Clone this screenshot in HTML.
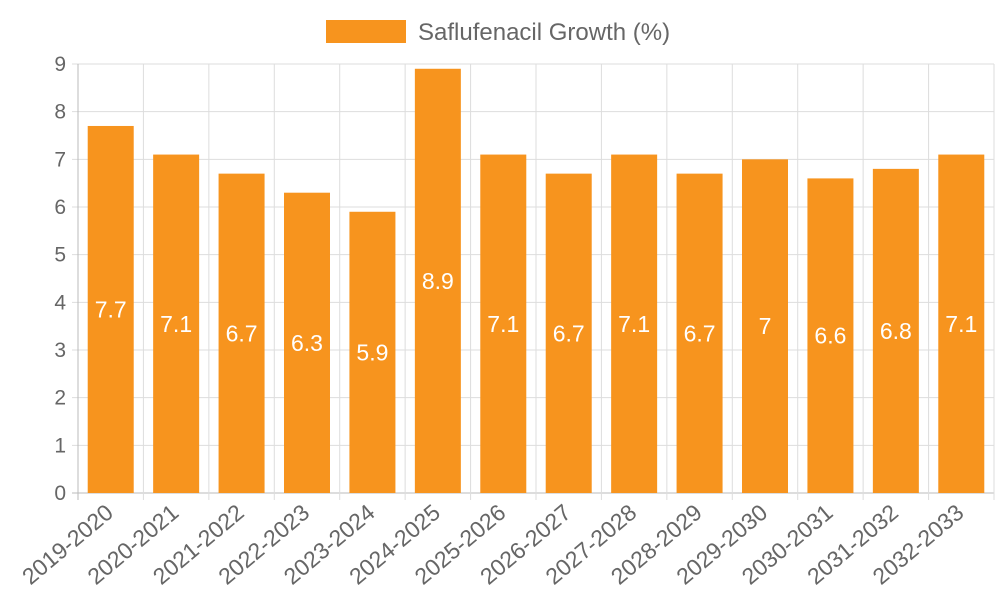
<!DOCTYPE html>
<html><head><meta charset="utf-8"><style>
body{margin:0;background:#fff;font-family:"Liberation Sans",sans-serif;}
</style></head><body>
<svg id="chart" width="1000" height="600" xmlns="http://www.w3.org/2000/svg" font-family="Liberation Sans, sans-serif">
<g id="legend">
<rect x="326" y="20" width="80" height="23" fill="#f7941e"/>
<text x="418" y="40" font-size="24" fill="#666">Saflufenacil Growth (%)</text>
</g>
<g id="grid"></g><g id="bars"></g><g id="labels"></g>
</svg>
<script>
const categories=["2019-2020","2020-2021","2021-2022","2022-2023","2023-2024","2024-2025","2025-2026","2026-2027","2027-2028","2028-2029","2029-2030","2030-2031","2031-2032","2032-2033"];
const values=[7.7,7.1,6.7,6.3,5.9,8.9,7.1,6.7,7.1,6.7,7,6.6,6.8,7.1];
const yTicks=[0,1,2,3,4,5,6,7,8,9];
const NS="http://www.w3.org/2000/svg";
const L=78,R=994,T=64,B=493,yMax=9;
const bw=(R-L)/categories.length;
const x=i=>L+i*bw;
const y=v=>B-(v/yMax)*(B-T);
function mk(tag,attrs,parent,text){const e=document.createElementNS(NS,tag);for(const k in attrs)e.setAttribute(k,attrs[k]);if(text!==undefined)e.textContent=text;document.getElementById(parent).appendChild(e);return e;}
yTicks.forEach(t=>{
 const g=mk('line',{x1:L-6,x2:R,y1:y(t),y2:y(t),stroke:t===0?'#bbb':'#ddd','stroke-width':1},'grid');
 
 
 const tx=mk('text',{x:L-12,y:y(t)+7,'font-size':21,fill:'#666','text-anchor':'end'},'labels',String(t));
 
 
});
for(let i=0;i<=categories.length;i++){
 const g=mk('line',{x1:x(i),x2:x(i),y1:T,y2:B+7,stroke:i===0?'#bbb':'#ddd','stroke-width':1},'grid');
 
 
}
categories.forEach((c,i)=>{
 const cx=x(i)+bw/2, w=46;
 const r=mk('rect',{x:cx-w/2,y:y(values[i]),width:w,height:B-y(values[i]),fill:'#f7941e'},'bars');
 
 
 const v=mk('text',{x:cx,y:(y(values[i])+B)/2+8,'font-size':23,fill:'#fff','text-anchor':'middle'},'labels',String(values[i]));
 
 
 const t=mk('text',{x:0,y:0,'font-size':23,fill:'#666','text-anchor':'end',transform:`translate(${cx+4},${B+22}) rotate(-40)`},'labels',c);
 
 
});
</script>
</body></html>
